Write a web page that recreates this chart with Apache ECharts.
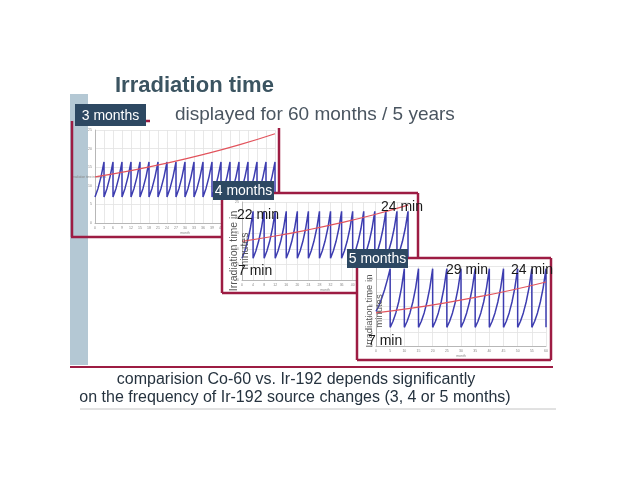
<!DOCTYPE html>
<html>
<head>
<meta charset="utf-8">
<script src="https://cdn.jsdelivr.net/npm/echarts@6/dist/echarts.min.js"></script>
<style>
  html, body { margin: 0; padding: 0; background: #fff; }
  #chart { width: 638px; height: 478px; }
</style>
</head>
<body>
<div id="chart"></div>
<script>
// Co-60 curve, months vs minutes
const coMonths = [0, 12, 24, 36, 48, 60]
const coMinutes = [12.4, 14.1, 16.1, 18.4, 21.0, 24.0]

// Ir-192 teeth, one value per month inside a source cycle
const tooth3 = [7.0, 9.3, 12.4, 16.4]
const tooth4 = [7.0, 9.3, 12.4, 16.5, 22.0]
const tooth5 = [7.0, 9.3, 12.4, 16.5, 21.8, 29.0]
// first cycle of the 5 months chart starts higher
const firstTooth5 = [13.0, 15.0, 17.8, 21.0, 24.8, 29.0]

const yTicks = [0, 5, 10, 15, 20, 25, 30]

const FONT = 'Liberation Sans, Arial, sans-serif'
const FRAME = '#9d1c43'
const BOX = '#2d4862'
const BLUE = '#3d3db0'
const RED = '#e2545d'

// build [month, minutes] pairs, each new source gives a vertical drop
const sawtooth = (first, tooth) => {
  const period = tooth.length - 1
  const pts = []
  for (let c = 0; c * period < 60; c++) {
    const vals = c === 0 ? first : tooth
    vals.forEach((v, i) => pts.push([c * period + i, v]))
  }
  pts.push([60, tooth[0]])
  return pts
}
const coData = coMonths.map((m, i) => [m, coMinutes[i]])

const charts = [
  { grid: { left: 95, top: 130, width: 180, height: 93 }, period: 3, max: 25, saw: sawtooth(tooth3, tooth3), z: 1 },
  { grid: { left: 242, top: 202, width: 166, height: 78 }, period: 4, max: 25, saw: sawtooth(tooth4, tooth4), z: 10 },
  { grid: { left: 376, top: 266, width: 170, height: 80 }, period: 5, max: 30, saw: sawtooth(firstTooth5, tooth5), z: 20 }
]

const chart = echarts.init(document.getElementById('chart'))

const txt = (x, y, text, size, color, z, extra) => ({
  type: 'text', x, y, z,
  style: Object.assign({
    text, fill: color, fontSize: size, fontFamily: FONT,
    textAlign: 'left', textVerticalAlign: 'middle'
  }, extra || {})
})
const line = (x1, y1, x2, y2, color, w, z) => ({
  type: 'line', z,
  shape: { x1, y1, x2, y2 },
  style: { stroke: color, lineWidth: w }
})
const rect = (x, y, w, h, fill, z) => ({
  type: 'rect', z, shape: { x, y, width: w, height: h }, style: { fill }
})
const box = (x, y, w, h, label, z) => [
  rect(x, y, w, h, BOX, z),
  txt(x + w / 2, y + h / 2 + 1, label, 14, '#fff', z + 1, { textAlign: 'center' })
]

const elements = [
  // slide
  rect(70, 94, 18, 271, '#b4c8d4', 0),
  txt(115, 86, 'Irradiation time', 22, '#3b5461', 0, { fontWeight: 'bold' }),
  txt(175, 115, 'displayed for 60 months / 5 years', 19, '#4a5560', 0),
  line(70, 367, 553, 367, FRAME, 2, 0),
  line(80, 409, 556, 409, '#c4c4c4', 1, 0),
  txt(296, 380, 'comparision Co-60 vs. Ir-192 depends significantly', 16, '#26333f', 0, { textAlign: 'center' }),
  txt(295, 398, 'on the frequency of Ir-192 source changes (3, 4 or 5 months)', 16, '#26333f', 0, { textAlign: 'center' }),

  // 3 months
  rect(88, 124, 190, 112, '#fff', 0),
  txt(89, 177, 'Irradiation time in minutes', 3, '#888', 1, { textAlign: 'center' }),
  line(72, 121, 72, 237, FRAME, 2.5, 4),
  line(71, 237, 230, 237, FRAME, 2.5, 4),
  line(279, 128, 279, 193, FRAME, 2.5, 4),
  line(145, 121, 150, 121, FRAME, 2.5, 4),
  ...box(75, 104, 71, 22, '3 months', 5),

  // 4 months
  rect(222, 193, 196, 100, '#fff', 10),
  line(222, 193, 418, 193, FRAME, 2.5, 13),
  line(222, 193, 222, 293, FRAME, 2.5, 13),
  line(222, 293, 360, 293, FRAME, 2.5, 13),
  line(418, 193, 418, 260, FRAME, 2.5, 13),
  Object.assign(txt(240, 251, 'Irradiation time in\nminutes', 10.5, '#555', 14,
    { textAlign: 'center', lineHeight: 11 }), { rotation: Math.PI / 2 }),
  txt(237, 215, '22 min', 14, '#1a1a1a', 14),
  txt(238, 271, '7 min', 14, '#1a1a1a', 14),
  txt(381, 207, '24 min', 14, '#1a1a1a', 14),
  ...box(213, 181, 61, 19, '4 months', 15),

  // 5 months
  rect(357, 258, 194, 102, '#fff', 20),
  line(357, 258, 551, 258, FRAME, 2.5, 23),
  line(357, 258, 357, 360, FRAME, 2.5, 23),
  line(357, 360, 551, 360, FRAME, 2.5, 23),
  line(551, 258, 551, 360, FRAME, 2.5, 23),
  Object.assign(txt(374.5, 311, 'Irradiation time in\nminutes', 9.5, '#555', 24,
    { textAlign: 'center', lineHeight: 10 }), { rotation: Math.PI / 2 }),
  txt(446, 270, '29 min', 14, '#1a1a1a', 24),
  txt(511, 270, '24 min', 14, '#1a1a1a', 24),
  txt(368, 341, '7 min', 14, '#1a1a1a', 24),
  ...box(347, 249, 61, 19, '5 months', 25)
]

const option = {
  animation: false,
  grid: charts.map(c => Object.assign({ containLabel: false }, c.grid)),
  xAxis: charts.map((c, i) => ({
    type: 'value', gridIndex: i, min: 0, max: 60, interval: c.period, z: c.z + 1,
    name: 'month', nameLocation: 'middle', nameGap: 8,
    nameTextStyle: { fontSize: 3.5, color: '#888' },
    axisLine: { lineStyle: { color: '#aaa', width: 0.8 } },
    axisTick: { show: false },
    axisLabel: { fontSize: 3.5, color: '#888', margin: 3 },
    splitLine: { lineStyle: { color: '#e2e2e2', width: 0.8 } }
  })),
  yAxis: charts.map((c, i) => ({
    type: 'value', gridIndex: i, min: 0, max: c.max, interval: yTicks[1], z: c.z + 1,
    axisLine: { show: true, lineStyle: { color: '#aaa', width: 0.8 } },
    axisTick: { show: false },
    axisLabel: { fontSize: 3.5, color: '#888', margin: 3 },
    splitLine: { lineStyle: { color: '#e2e2e2', width: 0.8 } }
  })),
  series: charts.flatMap((c, i) => [
    {
      name: 'Ir-192', type: 'line', xAxisIndex: i, yAxisIndex: i, z: c.z + 2,
      data: c.saw, showSymbol: false, silent: true,
      lineStyle: { color: BLUE, width: 1.5 }
    },
    {
      name: 'Co-60', type: 'line', xAxisIndex: i, yAxisIndex: i, z: c.z + 2,
      data: coData, smooth: true, showSymbol: false, silent: true,
      lineStyle: { color: RED, width: 1.2 }
    }
  ]),
  graphic: { elements }
}

chart.setOption(option)
</script>
</body>
</html>
